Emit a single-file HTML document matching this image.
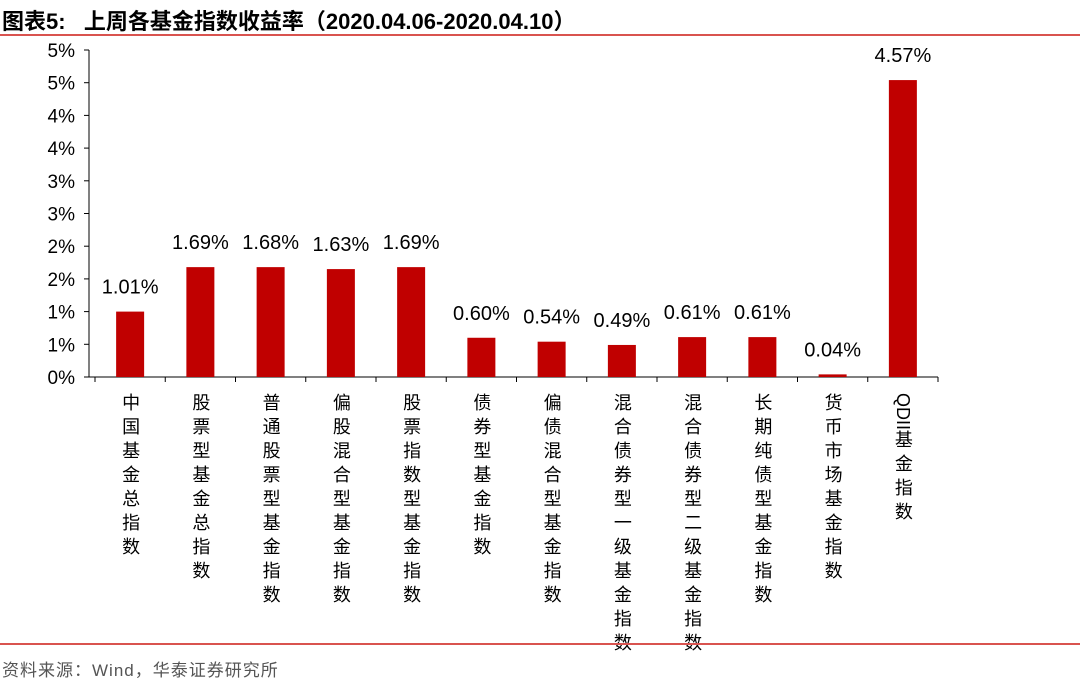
<!DOCTYPE html>
<html><head><meta charset="utf-8">
<style>
body{margin:0;background:#fff;width:1080px;height:682px;overflow:hidden;font-family:"Liberation Sans","Noto Sans CJK SC",sans-serif;}
#title{position:absolute;left:2px;top:4px;font-size:22px;font-weight:bold;color:#000;white-space:nowrap;}
.rule{position:absolute;left:0;width:1080px;height:2px;background:#d9534f;}
#src{position:absolute;left:2px;top:656px;font-size:17px;color:#555;letter-spacing:1px;}
</style></head><body>
<div id="title">图表5:&nbsp;&nbsp;&nbsp;上周各基金指数收益率（2020.04.06-2020.04.10）</div>
<div class="rule" style="top:34px"></div>
<svg id="chart" width="1080" height="682" style="position:absolute;left:0;top:0"></svg>
<div class="rule" style="top:643px"></div>
<div id="src">资料来源：Wind，华泰证券研究所</div>
<script>
const categories=["中国基金总指数","股票型基金总指数","普通股票型基金指数","偏股混合型基金指数","股票指数型基金指数","债券型基金指数","偏债混合型基金指数","混合债券型一级基金指数","混合债券型二级基金指数","长期纯债型基金指数","货币市场基金指数","QDII基金指数"];
const values=[1.0,1.68,1.68,1.65,1.68,0.60,0.54,0.49,0.61,0.61,0.04,4.54];
const valueLabels=["1.01%","1.69%","1.68%","1.63%","1.69%","0.60%","0.54%","0.49%","0.61%","0.61%","0.04%","4.57%"];
const yTicks=[0,0.5,1,1.5,2,2.5,3,3.5,4,4.5,5];
const yTickLabels=["0%","1%","1%","2%","2%","3%","3%","4%","4%","5%","5%"];
const NS="http://www.w3.org/2000/svg",svg=document.getElementById('chart');
const x0=89,x1=938,bx0=95,yB=377,yT=50,yMax=5;
const y=v=>yB-(v/yMax)*(yB-yT);
const step=(x1-bx0)/categories.length;
const xc=i=>bx0+step*(i+0.5);
function mk(t,a){const e=document.createElementNS(NS,t);for(const k in a)e.setAttribute(k,a[k]);svg.appendChild(e);return e;}
let ax=mk('line',{x1:x0,y1:yT,x2:x0,y2:yB,stroke:'#000','stroke-width':1});


let bx=mk('line',{x1:x0,y1:yB,x2:x1,y2:yB,stroke:'#000','stroke-width':1});


yTicks.forEach((t,i)=>{
  mk('line',{x1:x0-5,y1:y(t),x2:x0,y2:y(t),stroke:'#000'});
  const tx=mk('text',{x:75,y:y(t)+7,'text-anchor':'end','font-size':19,fill:'#000'});
  tx.textContent=yTickLabels[i];
  
  
});
for(let i=0;i<=categories.length;i++){mk('line',{x1:bx0+step*i,y1:yB,x2:bx0+step*i,y2:yB+5,stroke:'#000'});}
categories.forEach((c,i)=>{
  const r=mk('rect',{x:xc(i)-14,y:y(values[i]),width:28,height:yB-y(values[i]),fill:'#c00000'});
  
  
  const vl=mk('text',{x:xc(i),y:y(values[i])-18,'text-anchor':'middle','font-size':20,fill:'#000'});
  vl.textContent=valueLabels[i];
  
  
  const cl=mk('text',{x:xc(i),y:393,'font-size':18,fill:'#000',style:'writing-mode:vertical-rl;letter-spacing:6px'});
  const m=c.match(/^([A-Z]+)(.*)$/);
  if(m){
    const t1=document.createElementNS(NS,'tspan');t1.setAttribute('style','letter-spacing:0');t1.textContent=m[1];cl.appendChild(t1);
    const t2=document.createElementNS(NS,'tspan');t2.textContent=m[2];cl.appendChild(t2);
  } else cl.textContent=c;
  
  
});
</script>
</body></html>
